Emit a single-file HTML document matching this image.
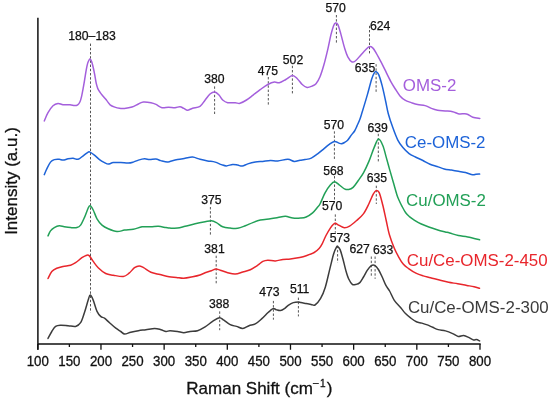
<!DOCTYPE html><html><head><meta charset="utf-8"><style>html,body{margin:0;padding:0;background:#fff;overflow:hidden;width:550px;height:402px;}svg{display:block;}text{font-family:"Liberation Sans",Arial,sans-serif;}</style></head><body>
<svg width="550" height="402" viewBox="0 0 550 402">
<rect width="550" height="402" fill="#fff"/>
<line x1="90.5" y1="43.6" x2="90.5" y2="312.6" stroke="#555" stroke-width="1" stroke-dasharray="2.4,1.8"/>
<line x1="214.6" y1="86.4" x2="214.6" y2="114.4" stroke="#555" stroke-width="1" stroke-dasharray="2.4,1.8"/>
<line x1="268.3" y1="77.0" x2="268.3" y2="105.2" stroke="#555" stroke-width="1" stroke-dasharray="2.4,1.8"/>
<line x1="292.4" y1="65.8" x2="292.4" y2="94.0" stroke="#555" stroke-width="1" stroke-dasharray="2.4,1.8"/>
<line x1="336.4" y1="15.0" x2="336.4" y2="42.6" stroke="#555" stroke-width="1" stroke-dasharray="2.4,1.8"/>
<line x1="369.5" y1="25.8" x2="369.5" y2="53.9" stroke="#555" stroke-width="1" stroke-dasharray="2.4,1.8"/>
<line x1="376.1" y1="64.2" x2="376.1" y2="91.8" stroke="#555" stroke-width="1" stroke-dasharray="2.4,1.8"/>
<line x1="334.4" y1="131.3" x2="334.4" y2="160.0" stroke="#555" stroke-width="1" stroke-dasharray="2.4,1.8"/>
<line x1="378.3" y1="133.8" x2="378.3" y2="161.4" stroke="#555" stroke-width="1" stroke-dasharray="2.4,1.8"/>
<line x1="334.5" y1="176.1" x2="334.5" y2="201.4" stroke="#555" stroke-width="1" stroke-dasharray="2.4,1.8"/>
<line x1="210.4" y1="207.0" x2="210.4" y2="235.0" stroke="#555" stroke-width="1" stroke-dasharray="2.4,1.8"/>
<line x1="376.3" y1="185.7" x2="376.3" y2="204.0" stroke="#555" stroke-width="1" stroke-dasharray="2.4,1.8"/>
<line x1="335.3" y1="214.4" x2="335.3" y2="232.7" stroke="#555" stroke-width="1" stroke-dasharray="2.4,1.8"/>
<line x1="216.2" y1="255.7" x2="216.2" y2="284.0" stroke="#555" stroke-width="1" stroke-dasharray="2.4,1.8"/>
<line x1="337.6" y1="245.7" x2="337.6" y2="262.7" stroke="#555" stroke-width="1" stroke-dasharray="2.4,1.8"/>
<line x1="371.3" y1="256.5" x2="371.3" y2="276.0" stroke="#555" stroke-width="1" stroke-dasharray="2.4,1.8"/>
<line x1="375.1" y1="256.5" x2="375.1" y2="278.8" stroke="#555" stroke-width="1" stroke-dasharray="2.4,1.8"/>
<line x1="219.7" y1="311.4" x2="219.7" y2="330.2" stroke="#555" stroke-width="1" stroke-dasharray="2.4,1.8"/>
<line x1="273.4" y1="300.9" x2="273.4" y2="319.7" stroke="#555" stroke-width="1" stroke-dasharray="2.4,1.8"/>
<line x1="298.4" y1="297.6" x2="298.4" y2="316.4" stroke="#555" stroke-width="1" stroke-dasharray="2.4,1.8"/>
<path d="M44.30,121.00 C44.92,119.62 46.55,115.25 48.00,112.70 C49.45,110.15 51.33,107.25 53.00,105.70 C54.67,104.15 56.33,103.57 58.00,103.40 C59.67,103.23 61.00,104.47 63.00,104.70 C65.00,104.93 68.07,104.65 70.00,104.80 C71.93,104.95 73.32,105.60 74.60,105.60 C75.88,105.60 76.80,105.45 77.70,104.80 C78.60,104.15 79.35,103.12 80.00,101.70 C80.65,100.28 81.08,98.48 81.60,96.30 C82.12,94.12 82.58,91.43 83.10,88.60 C83.62,85.77 84.18,82.38 84.70,79.30 C85.22,76.22 85.70,72.80 86.20,70.10 C86.70,67.40 87.18,64.85 87.70,63.10 C88.22,61.35 88.85,60.23 89.30,59.60 C89.75,58.97 90.02,58.97 90.40,59.30 C90.78,59.63 91.15,60.32 91.60,61.60 C92.05,62.88 92.58,64.82 93.10,67.00 C93.62,69.18 94.18,72.00 94.70,74.70 C95.22,77.40 95.68,80.88 96.20,83.20 C96.72,85.52 97.15,87.07 97.80,88.60 C98.45,90.13 99.20,91.12 100.10,92.40 C101.00,93.68 102.05,94.88 103.20,96.30 C104.35,97.72 105.85,99.48 107.00,100.90 C108.15,102.32 108.80,103.77 110.10,104.80 C111.40,105.83 113.25,106.52 114.80,107.10 C116.35,107.68 117.78,108.08 119.40,108.30 C121.02,108.52 122.40,108.62 124.50,108.40 C126.60,108.18 129.68,107.73 132.00,107.00 C134.32,106.27 136.50,104.83 138.40,104.00 C140.30,103.17 141.30,102.22 143.40,102.00 C145.50,101.78 148.90,102.30 151.00,102.70 C153.10,103.10 154.17,103.57 156.00,104.40 C157.83,105.23 159.92,107.23 162.00,107.70 C164.08,108.17 166.33,107.20 168.50,107.20 C170.67,107.20 173.08,107.78 175.00,107.70 C176.92,107.62 178.53,106.58 180.00,106.70 C181.47,106.82 182.53,107.82 183.80,108.40 C185.07,108.98 186.13,110.23 187.60,110.20 C189.07,110.17 190.53,108.83 192.60,108.20 C194.67,107.57 197.93,107.73 200.00,106.40 C202.07,105.07 203.33,102.27 205.00,100.20 C206.67,98.13 208.38,95.38 210.00,94.00 C211.62,92.62 213.20,91.73 214.70,91.90 C216.20,92.07 217.67,93.65 219.00,95.00 C220.33,96.35 221.25,98.72 222.70,100.00 C224.15,101.28 225.62,102.25 227.70,102.70 C229.78,103.15 233.15,102.60 235.20,102.70 C237.25,102.80 238.12,103.75 240.00,103.30 C241.88,102.85 244.32,101.37 246.50,100.00 C248.68,98.63 250.77,96.87 253.10,95.10 C255.43,93.33 258.05,91.17 260.50,89.40 C262.95,87.63 265.48,85.73 267.80,84.50 C270.12,83.27 272.48,82.28 274.40,82.00 C276.32,81.72 277.40,83.22 279.30,82.80 C281.20,82.38 283.62,80.72 285.80,79.50 C287.98,78.28 290.48,75.63 292.40,75.50 C294.32,75.37 295.67,77.20 297.30,78.70 C298.93,80.20 300.57,83.05 302.20,84.50 C303.83,85.95 305.47,87.13 307.10,87.40 C308.73,87.67 310.52,86.72 312.00,86.10 C313.48,85.48 314.67,85.27 316.00,83.70 C317.33,82.13 318.68,79.85 320.00,76.70 C321.32,73.55 322.58,69.45 323.90,64.80 C325.22,60.15 326.73,53.78 327.90,48.80 C329.07,43.82 329.97,38.72 330.90,34.90 C331.83,31.08 332.73,27.88 333.50,25.90 C334.27,23.92 334.77,23.22 335.50,23.00 C336.23,22.78 337.02,22.78 337.90,24.60 C338.78,26.42 339.65,29.87 340.80,33.90 C341.95,37.93 343.63,44.98 344.80,48.80 C345.97,52.62 346.63,54.63 347.80,56.80 C348.97,58.97 350.55,61.10 351.80,61.80 C353.05,62.50 353.85,62.07 355.30,61.00 C356.75,59.93 358.77,57.28 360.50,55.40 C362.23,53.52 364.25,51.15 365.70,49.70 C367.15,48.25 368.03,47.00 369.20,46.70 C370.37,46.40 371.53,46.83 372.70,47.90 C373.87,48.97 374.75,50.63 376.20,53.10 C377.65,55.57 379.95,59.93 381.40,62.70 C382.85,65.47 383.35,66.60 384.90,69.70 C386.45,72.80 388.97,78.08 390.70,81.30 C392.43,84.52 393.75,86.57 395.30,89.00 C396.85,91.43 398.38,94.05 400.00,95.90 C401.62,97.75 403.12,98.98 405.00,100.10 C406.88,101.22 409.20,101.85 411.30,102.60 C413.40,103.35 415.30,104.10 417.60,104.60 C419.90,105.10 422.80,104.97 425.10,105.60 C427.40,106.23 429.32,107.63 431.40,108.40 C433.48,109.17 435.30,109.78 437.60,110.20 C439.90,110.62 442.68,110.65 445.20,110.90 C447.72,111.15 450.40,111.20 452.70,111.70 C455.00,112.20 456.70,113.53 459.00,113.90 C461.30,114.27 464.20,113.35 466.50,113.90 C468.80,114.45 470.58,116.45 472.80,117.20 C475.02,117.95 478.63,118.20 479.80,118.40" fill="none" stroke="#a45fdc" stroke-width="1.5" stroke-linejoin="round" stroke-linecap="round"/>
<path d="M44.30,174.60 C44.72,173.65 45.77,170.98 46.80,168.90 C47.83,166.82 49.25,163.65 50.50,162.10 C51.75,160.55 52.83,160.07 54.30,159.60 C55.77,159.13 57.83,159.22 59.30,159.30 C60.77,159.38 61.63,160.18 63.10,160.10 C64.57,160.02 66.43,159.10 68.10,158.80 C69.77,158.50 71.43,158.22 73.10,158.30 C74.77,158.38 76.42,159.72 78.10,159.30 C79.78,158.88 81.52,157.00 83.20,155.80 C84.88,154.60 87.07,152.72 88.20,152.10 C89.33,151.48 88.97,151.60 90.00,152.10 C91.03,152.60 92.82,153.85 94.40,155.10 C95.98,156.35 97.82,158.35 99.50,159.60 C101.18,160.85 103.05,161.85 104.50,162.60 C105.95,163.35 106.73,164.10 108.20,164.10 C109.67,164.10 111.20,162.85 113.30,162.60 C115.40,162.35 118.30,162.52 120.80,162.60 C123.30,162.68 126.22,163.18 128.30,163.10 C130.38,163.02 131.62,162.60 133.30,162.10 C134.98,161.60 136.52,160.65 138.40,160.10 C140.28,159.55 142.73,158.88 144.60,158.80 C146.47,158.72 147.72,159.55 149.60,159.60 C151.48,159.65 154.02,158.93 155.90,159.10 C157.78,159.27 159.02,160.10 160.90,160.60 C162.78,161.10 165.68,161.97 167.20,162.10 C168.72,162.23 168.28,161.82 170.00,161.40 C171.72,160.98 174.98,160.12 177.50,159.60 C180.02,159.08 182.58,158.72 185.10,158.30 C187.62,157.88 190.10,156.93 192.60,157.10 C195.10,157.27 197.60,158.67 200.10,159.30 C202.60,159.93 205.08,160.43 207.60,160.90 C210.12,161.37 212.90,161.48 215.20,162.10 C217.50,162.72 219.53,163.97 221.40,164.60 C223.27,165.23 224.52,165.93 226.40,165.90 C228.28,165.87 230.82,164.53 232.70,164.40 C234.58,164.27 236.10,164.82 237.70,165.10 C239.30,165.38 240.62,166.30 242.30,166.10 C243.98,165.90 245.63,164.57 247.80,163.90 C249.97,163.23 252.80,162.52 255.30,162.10 C257.80,161.68 260.28,161.65 262.80,161.40 C265.32,161.15 267.88,160.68 270.40,160.60 C272.92,160.52 274.98,161.12 277.90,160.90 C280.82,160.68 285.18,159.22 287.90,159.30 C290.62,159.38 292.18,161.25 294.20,161.40 C296.22,161.55 298.20,160.50 300.00,160.20 C301.80,159.90 303.12,159.95 305.00,159.60 C306.88,159.25 309.20,159.05 311.30,158.10 C313.40,157.15 315.52,155.43 317.60,153.90 C319.68,152.37 321.92,150.45 323.80,148.90 C325.68,147.35 327.13,145.85 328.90,144.60 C330.67,143.35 332.73,141.65 334.40,141.40 C336.07,141.15 337.72,142.72 338.90,143.10 C340.08,143.48 340.57,143.80 341.50,143.70 C342.43,143.60 343.48,143.07 344.50,142.50 C345.52,141.93 346.40,141.62 347.60,140.30 C348.80,138.98 350.53,136.15 351.70,134.60 C352.87,133.05 353.72,132.45 354.60,131.00 C355.48,129.55 356.13,127.82 357.00,125.90 C357.87,123.98 358.93,121.82 359.80,119.50 C360.67,117.18 360.93,116.15 362.20,112.00 C363.47,107.85 365.82,100.12 367.40,94.60 C368.98,89.08 370.55,82.53 371.70,78.90 C372.85,75.27 373.57,74.02 374.30,72.80 C375.03,71.58 375.37,71.30 376.10,71.60 C376.83,71.90 377.68,72.22 378.70,74.60 C379.72,76.98 381.03,81.42 382.20,85.90 C383.37,90.38 384.68,96.87 385.70,101.50 C386.72,106.13 387.12,109.35 388.30,113.70 C389.48,118.05 391.22,123.20 392.80,127.60 C394.38,132.00 396.12,136.77 397.80,140.10 C399.48,143.43 401.02,145.35 402.90,147.60 C404.78,149.85 407.02,152.03 409.10,153.60 C411.18,155.17 413.10,155.85 415.40,157.00 C417.70,158.15 420.47,159.30 422.90,160.50 C425.33,161.70 427.63,163.20 430.00,164.20 C432.37,165.20 434.73,165.72 437.10,166.50 C439.47,167.28 441.83,168.30 444.20,168.90 C446.57,169.50 448.93,169.70 451.30,170.10 C453.67,170.50 456.03,170.90 458.40,171.30 C460.77,171.70 463.13,171.92 465.50,172.50 C467.87,173.08 470.85,174.50 472.60,174.80 C474.35,175.10 474.83,174.42 476.00,174.30 C477.17,174.18 479.00,174.13 479.60,174.10" fill="none" stroke="#1d63d8" stroke-width="1.5" stroke-linejoin="round" stroke-linecap="round"/>
<path d="M48.00,235.90 C48.42,235.07 49.45,232.28 50.50,230.90 C51.55,229.52 52.83,228.45 54.30,227.60 C55.77,226.75 57.63,225.93 59.30,225.80 C60.97,225.67 62.42,226.50 64.30,226.80 C66.18,227.10 68.50,227.47 70.60,227.60 C72.70,227.73 75.23,228.02 76.90,227.60 C78.57,227.18 79.35,226.77 80.60,225.10 C81.85,223.43 83.13,220.45 84.40,217.60 C85.67,214.75 87.23,209.97 88.20,208.00 C89.17,206.03 89.37,205.47 90.20,205.80 C91.03,206.13 92.07,207.83 93.20,210.00 C94.33,212.17 95.53,216.28 97.00,218.80 C98.47,221.32 100.13,223.43 102.00,225.10 C103.87,226.77 105.70,227.72 108.20,228.80 C110.70,229.88 114.27,231.38 117.00,231.60 C119.73,231.82 121.88,230.48 124.60,230.10 C127.32,229.72 130.38,229.85 133.30,229.30 C136.22,228.75 139.17,227.22 142.10,226.80 C145.03,226.38 148.18,226.88 150.90,226.80 C153.62,226.72 155.88,226.17 158.40,226.30 C160.92,226.43 164.07,227.30 166.00,227.60 C167.93,227.90 168.08,228.02 170.00,228.10 C171.92,228.18 174.98,228.40 177.50,228.10 C180.02,227.80 182.17,227.02 185.10,226.30 C188.03,225.58 191.77,224.55 195.10,223.80 C198.43,223.05 202.38,222.30 205.10,221.80 C207.82,221.30 209.52,220.67 211.40,220.80 C213.28,220.93 214.52,221.60 216.40,222.60 C218.28,223.60 220.40,225.88 222.70,226.80 C225.00,227.72 227.70,227.85 230.20,228.10 C232.70,228.35 235.18,228.68 237.70,228.30 C240.22,227.92 242.78,226.75 245.30,225.80 C247.82,224.85 250.30,223.55 252.80,222.60 C255.30,221.65 257.37,220.73 260.30,220.10 C263.23,219.47 267.47,219.22 270.40,218.80 C273.33,218.38 275.40,218.02 277.90,217.60 C280.40,217.18 282.90,216.22 285.40,216.30 C287.90,216.38 290.38,217.80 292.90,218.10 C295.42,218.40 298.28,218.28 300.50,218.10 C302.72,217.92 304.18,217.87 306.20,217.00 C308.22,216.13 310.72,214.52 312.60,212.90 C314.48,211.28 316.27,208.78 317.50,207.30 C318.73,205.82 318.72,206.45 320.00,204.00 C321.28,201.55 323.45,195.80 325.20,192.60 C326.95,189.40 328.95,186.60 330.50,184.80 C332.05,183.00 333.05,181.80 334.50,181.80 C335.95,181.80 337.55,183.63 339.20,184.80 C340.85,185.97 342.82,188.02 344.40,188.80 C345.98,189.58 347.25,189.73 348.70,189.50 C350.15,189.27 351.50,188.90 353.10,187.40 C354.70,185.90 356.55,182.97 358.30,180.50 C360.05,178.03 361.83,175.78 363.60,172.60 C365.37,169.42 367.13,165.60 368.90,161.40 C370.67,157.20 372.60,151.12 374.20,147.40 C375.80,143.68 377.05,139.38 378.50,139.10 C379.95,138.82 381.58,142.57 382.90,145.70 C384.22,148.83 385.25,153.83 386.40,157.90 C387.55,161.97 388.65,166.03 389.80,170.10 C390.95,174.17 392.13,178.23 393.30,182.30 C394.47,186.37 395.92,191.68 396.80,194.50 C397.68,197.32 397.75,197.27 398.60,199.20 C399.45,201.13 400.72,203.83 401.90,206.10 C403.08,208.37 404.45,211.05 405.70,212.80 C406.95,214.55 407.92,215.35 409.40,216.60 C410.88,217.85 412.62,219.07 414.60,220.30 C416.58,221.53 418.93,222.88 421.30,224.00 C423.67,225.12 426.05,226.00 428.80,227.00 C431.55,228.00 435.07,229.18 437.80,230.00 C440.53,230.82 443.22,231.40 445.20,231.90 C447.18,232.40 447.50,232.38 449.70,233.00 C451.90,233.62 455.38,234.93 458.40,235.60 C461.42,236.27 464.27,236.30 467.80,237.00 C471.33,237.70 477.63,239.33 479.60,239.80" fill="none" stroke="#22a057" stroke-width="1.5" stroke-linejoin="round" stroke-linecap="round"/>
<path d="M48.00,278.50 C48.63,277.33 50.33,273.22 51.80,271.50 C53.27,269.78 54.92,269.05 56.80,268.20 C58.68,267.35 60.80,266.90 63.10,266.40 C65.40,265.90 68.52,265.82 70.60,265.20 C72.68,264.58 73.72,263.95 75.60,262.70 C77.48,261.45 80.02,258.95 81.90,257.70 C83.78,256.45 85.65,255.50 86.90,255.20 C88.15,254.90 88.35,254.87 89.40,255.90 C90.45,256.93 91.73,259.43 93.20,261.40 C94.67,263.37 96.12,265.68 98.20,267.70 C100.28,269.72 103.18,272.25 105.70,273.50 C108.22,274.75 110.37,274.70 113.30,275.20 C116.23,275.70 120.67,276.83 123.30,276.50 C125.93,276.17 127.23,274.67 129.10,273.20 C130.97,271.73 132.83,268.92 134.50,267.70 C136.17,266.48 137.58,265.90 139.10,265.90 C140.62,265.90 141.63,266.63 143.60,267.70 C145.57,268.77 148.17,271.15 150.90,272.30 C153.63,273.45 156.97,273.85 160.00,274.60 C163.03,275.35 166.37,276.33 169.10,276.80 C171.83,277.27 173.98,277.15 176.40,277.40 C178.82,277.65 180.88,278.40 183.60,278.30 C186.32,278.20 189.97,277.35 192.70,276.80 C195.43,276.25 197.93,275.67 200.00,275.00 C202.07,274.33 203.20,273.52 205.10,272.80 C207.00,272.08 209.60,271.33 211.40,270.70 C213.20,270.07 214.43,269.08 215.90,269.00 C217.37,268.92 218.23,269.58 220.20,270.20 C222.17,270.82 225.20,272.07 227.70,272.70 C230.20,273.33 232.68,274.12 235.20,274.00 C237.72,273.88 240.28,272.72 242.80,272.00 C245.32,271.28 247.80,270.83 250.30,269.70 C252.80,268.57 255.72,266.58 257.80,265.20 C259.88,263.82 261.13,262.23 262.80,261.40 C264.47,260.57 265.70,260.28 267.80,260.20 C269.90,260.12 272.88,261.03 275.40,260.90 C277.92,260.77 280.40,259.73 282.90,259.40 C285.40,259.07 287.60,259.23 290.40,258.90 C293.20,258.57 297.07,257.93 299.70,257.40 C302.33,256.87 303.78,256.52 306.20,255.70 C308.62,254.88 312.05,253.70 314.20,252.50 C316.35,251.30 317.75,249.98 319.10,248.50 C320.45,247.02 321.15,245.77 322.30,243.60 C323.45,241.43 324.63,238.13 326.00,235.50 C327.37,232.87 329.23,229.68 330.50,227.80 C331.77,225.92 332.80,224.97 333.60,224.20 C334.40,223.43 334.37,223.00 335.30,223.20 C336.23,223.40 337.68,224.63 339.20,225.40 C340.72,226.17 342.67,227.68 344.40,227.80 C346.13,227.92 347.57,227.32 349.60,226.10 C351.63,224.88 354.27,222.58 356.60,220.50 C358.93,218.42 361.57,216.35 363.60,213.60 C365.63,210.85 367.22,207.20 368.80,204.00 C370.38,200.80 371.88,196.63 373.10,194.40 C374.32,192.17 375.08,190.90 376.10,190.60 C377.12,190.30 378.10,190.23 379.20,192.60 C380.30,194.97 381.53,200.15 382.70,204.80 C383.87,209.45 385.07,215.47 386.20,220.50 C387.33,225.53 388.18,230.47 389.50,235.00 C390.82,239.53 392.58,244.07 394.10,247.70 C395.62,251.33 397.08,254.07 398.60,256.80 C400.12,259.53 401.53,262.13 403.20,264.10 C404.87,266.07 406.48,267.08 408.60,268.60 C410.72,270.12 413.47,271.98 415.90,273.20 C418.33,274.42 420.77,275.15 423.20,275.90 C425.63,276.65 427.78,277.00 430.50,277.70 C433.22,278.40 436.48,279.33 439.50,280.10 C442.52,280.87 445.57,281.70 448.60,282.30 C451.63,282.90 454.67,283.18 457.70,283.70 C460.73,284.22 464.07,284.88 466.80,285.40 C469.53,285.92 471.98,286.32 474.10,286.80 C476.22,287.28 478.60,288.05 479.50,288.30" fill="none" stroke="#e8262c" stroke-width="1.5" stroke-linejoin="round" stroke-linecap="round"/>
<path d="M48.00,338.50 C48.63,337.33 50.53,333.52 51.80,331.50 C53.07,329.48 54.13,327.45 55.60,326.40 C57.07,325.35 58.52,325.32 60.60,325.20 C62.68,325.08 65.60,325.50 68.10,325.70 C70.60,325.90 73.52,326.90 75.60,326.40 C77.68,325.90 79.13,324.98 80.60,322.70 C82.07,320.42 83.13,316.47 84.40,312.70 C85.67,308.93 87.23,303.03 88.20,300.10 C89.17,297.17 89.37,295.10 90.20,295.10 C91.03,295.10 92.07,297.38 93.20,300.10 C94.33,302.82 95.75,308.68 97.00,311.40 C98.25,314.12 99.45,315.27 100.70,316.40 C101.95,317.53 103.03,317.15 104.50,318.20 C105.97,319.25 107.62,321.03 109.50,322.70 C111.38,324.37 113.92,326.73 115.80,328.20 C117.68,329.67 119.33,330.53 120.80,331.50 C122.27,332.47 122.93,333.88 124.60,334.00 C126.27,334.12 128.50,332.75 130.80,332.20 C133.10,331.65 135.88,331.12 138.40,330.70 C140.92,330.28 143.18,330.08 145.90,329.70 C148.62,329.32 152.20,328.40 154.70,328.40 C157.20,328.40 159.02,329.18 160.90,329.70 C162.78,330.22 164.48,331.33 166.00,331.50 C167.52,331.67 168.08,330.70 170.00,330.70 C171.92,330.70 175.20,331.17 177.50,331.50 C179.80,331.83 181.70,332.70 183.80,332.70 C185.90,332.70 187.80,331.83 190.10,331.50 C192.40,331.17 195.10,331.47 197.60,330.70 C200.10,329.93 202.60,328.45 205.10,326.90 C207.60,325.35 210.22,322.93 212.60,321.40 C214.98,319.87 217.52,317.90 219.40,317.70 C221.28,317.50 222.10,319.03 223.90,320.20 C225.70,321.37 228.10,323.67 230.20,324.70 C232.30,325.73 234.40,325.78 236.50,326.40 C238.60,327.02 240.72,328.52 242.80,328.40 C244.88,328.28 246.92,326.45 249.00,325.70 C251.08,324.95 253.20,325.03 255.30,323.90 C257.40,322.77 259.52,320.77 261.60,318.90 C263.68,317.03 266.33,314.10 267.80,312.70 C269.27,311.30 269.45,311.18 270.40,310.50 C271.35,309.82 272.45,308.70 273.50,308.60 C274.55,308.50 275.53,309.58 276.70,309.90 C277.87,310.22 279.22,310.72 280.50,310.50 C281.78,310.28 283.12,309.45 284.40,308.60 C285.68,307.75 286.72,306.40 288.20,305.40 C289.68,304.40 291.62,303.18 293.30,302.60 C294.98,302.02 297.03,301.90 298.30,301.90 C299.57,301.90 299.62,302.33 300.90,302.60 C302.18,302.87 304.30,303.20 306.00,303.50 C307.70,303.80 309.60,304.15 311.10,304.40 C312.60,304.65 313.42,306.00 315.00,305.00 C316.58,304.00 318.88,301.37 320.60,298.40 C322.32,295.43 323.75,292.17 325.30,287.20 C326.85,282.23 328.50,274.18 329.90,268.60 C331.30,263.02 332.60,257.28 333.70,253.70 C334.80,250.12 335.82,248.28 336.50,247.10 C337.18,245.92 337.18,246.13 337.80,246.60 C338.42,247.07 339.33,247.78 340.20,249.90 C341.07,252.02 342.07,255.88 343.00,259.30 C343.93,262.72 344.87,267.15 345.80,270.40 C346.73,273.65 347.52,276.47 348.60,278.80 C349.68,281.13 351.07,283.47 352.30,284.40 C353.53,285.33 354.75,284.70 356.00,284.40 C357.25,284.10 358.55,283.83 359.80,282.60 C361.05,281.37 362.27,279.03 363.50,277.00 C364.73,274.97 365.95,272.27 367.20,270.40 C368.45,268.53 369.75,266.63 371.00,265.80 C372.25,264.97 373.47,264.78 374.70,265.40 C375.93,266.02 377.15,267.57 378.40,269.50 C379.65,271.43 380.95,274.35 382.20,277.00 C383.45,279.65 384.67,283.07 385.90,285.40 C387.13,287.73 388.20,288.52 389.60,291.00 C391.00,293.48 392.40,297.47 394.30,300.30 C396.20,303.13 399.13,305.78 401.00,308.00 C402.87,310.22 403.85,311.90 405.50,313.60 C407.15,315.30 409.08,316.83 410.90,318.20 C412.72,319.57 414.58,320.98 416.40,321.80 C418.22,322.62 419.98,322.58 421.80,323.10 C423.62,323.62 425.48,324.20 427.30,324.90 C429.12,325.60 430.88,326.52 432.70,327.30 C434.52,328.08 436.07,329.00 438.20,329.60 C440.33,330.20 443.08,330.23 445.50,330.90 C447.92,331.57 450.58,332.68 452.70,333.60 C454.82,334.52 456.38,336.08 458.20,336.40 C460.02,336.72 461.78,335.30 463.60,335.50 C465.42,335.70 467.43,336.85 469.10,337.60 C470.77,338.35 472.38,339.67 473.60,340.00 C474.82,340.33 475.40,339.45 476.40,339.60 C477.40,339.75 479.07,340.68 479.60,340.90" fill="none" stroke="#3c3c3c" stroke-width="1.5" stroke-linejoin="round" stroke-linecap="round"/>
<path d="M37.9,17.7 V349.8 M37.2,344.0 H480.7" stroke="#111" stroke-width="1.5" fill="none"/>
<path d="M37.80,344 V349.8 M69.38,344 V346.9 M100.97,344 V349.8 M132.56,344 V346.9 M164.14,344 V349.8 M195.73,344 V346.9 M227.31,344 V349.8 M258.90,344 V346.9 M290.48,344 V349.8 M322.07,344 V346.9 M353.65,344 V349.8 M385.24,344 V346.9 M416.82,344 V349.8 M448.41,344 V346.9 M479.99,344 V349.8" stroke="#111" stroke-width="1.3" fill="none"/>
<text transform="translate(37.80,365.5) scale(0.95,1)" font-size="14" text-anchor="middle" fill="#111" stroke="#111" stroke-width="0.3">100</text>
<text transform="translate(69.38,365.5) scale(0.95,1)" font-size="14" text-anchor="middle" fill="#111" stroke="#111" stroke-width="0.3">150</text>
<text transform="translate(100.97,365.5) scale(0.95,1)" font-size="14" text-anchor="middle" fill="#111" stroke="#111" stroke-width="0.3">200</text>
<text transform="translate(132.56,365.5) scale(0.95,1)" font-size="14" text-anchor="middle" fill="#111" stroke="#111" stroke-width="0.3">250</text>
<text transform="translate(164.14,365.5) scale(0.95,1)" font-size="14" text-anchor="middle" fill="#111" stroke="#111" stroke-width="0.3">300</text>
<text transform="translate(195.73,365.5) scale(0.95,1)" font-size="14" text-anchor="middle" fill="#111" stroke="#111" stroke-width="0.3">350</text>
<text transform="translate(227.31,365.5) scale(0.95,1)" font-size="14" text-anchor="middle" fill="#111" stroke="#111" stroke-width="0.3">400</text>
<text transform="translate(258.90,365.5) scale(0.95,1)" font-size="14" text-anchor="middle" fill="#111" stroke="#111" stroke-width="0.3">450</text>
<text transform="translate(290.48,365.5) scale(0.95,1)" font-size="14" text-anchor="middle" fill="#111" stroke="#111" stroke-width="0.3">500</text>
<text transform="translate(322.07,365.5) scale(0.95,1)" font-size="14" text-anchor="middle" fill="#111" stroke="#111" stroke-width="0.3">550</text>
<text transform="translate(353.65,365.5) scale(0.95,1)" font-size="14" text-anchor="middle" fill="#111" stroke="#111" stroke-width="0.3">600</text>
<text transform="translate(385.24,365.5) scale(0.95,1)" font-size="14" text-anchor="middle" fill="#111" stroke="#111" stroke-width="0.3">650</text>
<text transform="translate(416.82,365.5) scale(0.95,1)" font-size="14" text-anchor="middle" fill="#111" stroke="#111" stroke-width="0.3">700</text>
<text transform="translate(448.41,365.5) scale(0.95,1)" font-size="14" text-anchor="middle" fill="#111" stroke="#111" stroke-width="0.3">750</text>
<text transform="translate(479.99,365.5) scale(0.95,1)" font-size="14" text-anchor="middle" fill="#111" stroke="#111" stroke-width="0.3">800</text>
<text x="92.0" y="39.6" font-size="12.2" text-anchor="middle" fill="#111" stroke="#111" stroke-width="0.25">180–183</text>
<text x="214.4" y="82.6" font-size="12.2" text-anchor="middle" fill="#111" stroke="#111" stroke-width="0.25">380</text>
<text x="267.8" y="75.1" font-size="12.2" text-anchor="middle" fill="#111" stroke="#111" stroke-width="0.25">475</text>
<text x="293.0" y="63.8" font-size="12.2" text-anchor="middle" fill="#111" stroke="#111" stroke-width="0.25">502</text>
<text x="335.6" y="11.8" font-size="12.2" text-anchor="middle" fill="#111" stroke="#111" stroke-width="0.25">570</text>
<text x="380.2" y="29.8" font-size="12.2" text-anchor="middle" fill="#111" stroke="#111" stroke-width="0.25">624</text>
<text x="365.0" y="71.8" font-size="12.2" text-anchor="middle" fill="#111" stroke="#111" stroke-width="0.25">635</text>
<text x="333.9" y="128.8" font-size="12.2" text-anchor="middle" fill="#111" stroke="#111" stroke-width="0.25">570</text>
<text x="377.7" y="131.8" font-size="12.2" text-anchor="middle" fill="#111" stroke="#111" stroke-width="0.25">639</text>
<text x="333.4" y="175.2" font-size="12.2" text-anchor="middle" fill="#111" stroke="#111" stroke-width="0.25">568</text>
<text x="211.4" y="203.5" font-size="12.2" text-anchor="middle" fill="#111" stroke="#111" stroke-width="0.25">375</text>
<text x="376.9" y="182.2" font-size="12.2" text-anchor="middle" fill="#111" stroke="#111" stroke-width="0.25">635</text>
<text x="332.2" y="209.6" font-size="12.2" text-anchor="middle" fill="#111" stroke="#111" stroke-width="0.25">570</text>
<text x="214.5" y="252.7" font-size="12.2" text-anchor="middle" fill="#111" stroke="#111" stroke-width="0.25">381</text>
<text x="339.8" y="242.2" font-size="12.2" text-anchor="middle" fill="#111" stroke="#111" stroke-width="0.25">573</text>
<text x="359.6" y="253.2" font-size="12.2" text-anchor="middle" fill="#111" stroke="#111" stroke-width="0.25">627</text>
<text x="383.1" y="253.9" font-size="12.2" text-anchor="middle" fill="#111" stroke="#111" stroke-width="0.25">633</text>
<text x="219.2" y="308.1" font-size="12.2" text-anchor="middle" fill="#111" stroke="#111" stroke-width="0.25">388</text>
<text x="269.3" y="296.4" font-size="12.2" text-anchor="middle" fill="#111" stroke="#111" stroke-width="0.25">473</text>
<text x="299.6" y="292.6" font-size="12.2" text-anchor="middle" fill="#111" stroke="#111" stroke-width="0.25">511</text>
<text x="402.8" y="91.4" font-size="16.9" fill="#a45fdc">OMS-2</text>
<text x="404.8" y="148.3" font-size="16.9" fill="#1d63d8">Ce-OMS-2</text>
<text x="406.1" y="206.3" font-size="16.9" fill="#22a057">Cu/OMS-2</text>
<text x="406.8" y="266.3" font-size="16.9" fill="#e8262c">Cu/Ce-OMS-2-450</text>
<text x="407.9" y="312.7" font-size="16.9" fill="#3c3c3c">Cu/Ce-OMS-2-300</text>
<text x="186.3" y="393.6" font-size="17" fill="#111" stroke="#111" stroke-width="0.3">Raman Shift (cm<tspan dy="-7.8" font-size="10">–</tspan><tspan dx="1.6" dy="1" font-size="10">1</tspan><tspan dx="1.1" dy="6.8">)</tspan></text>
<text transform="translate(16.5,181) rotate(-90)" font-size="17" text-anchor="middle" fill="#111" stroke="#111" stroke-width="0.3">Intensity (a.u.)</text>
</svg></body></html>
